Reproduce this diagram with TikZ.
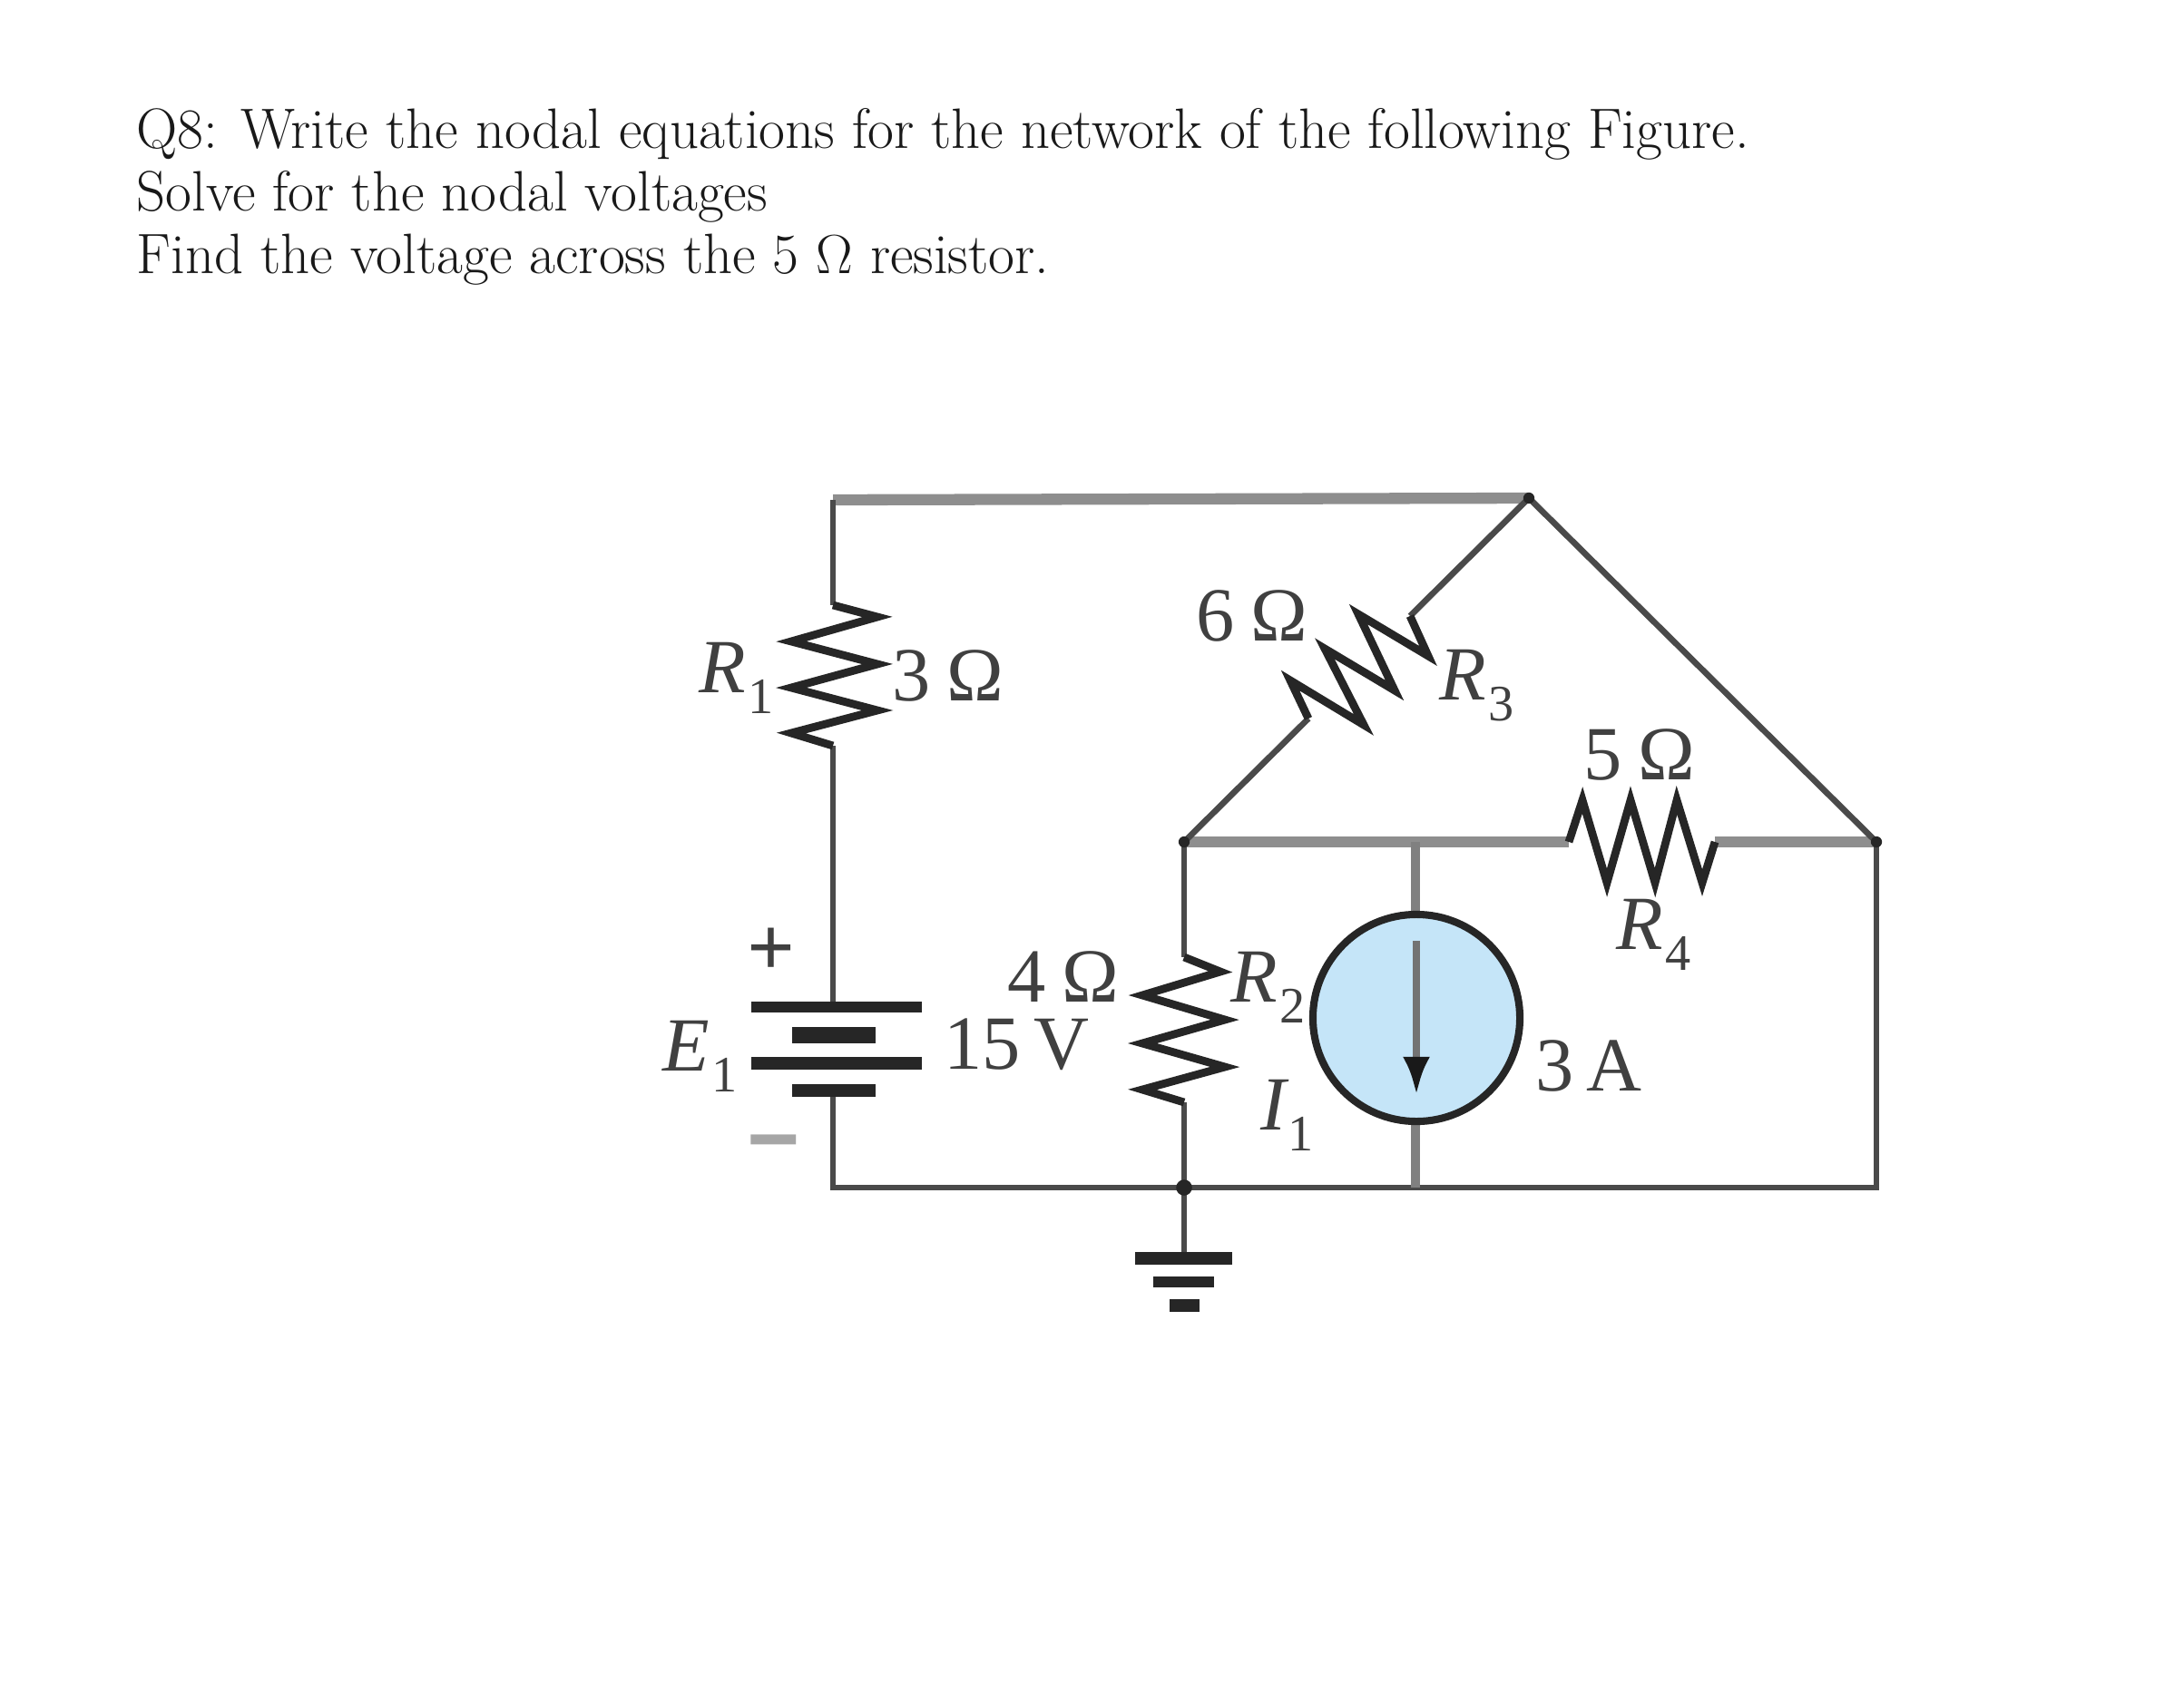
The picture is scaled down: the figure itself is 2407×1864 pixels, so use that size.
\documentclass[tikz,border=0pt]{standalone}
\usepackage{fontspec}
\usetikzlibrary{arrows.meta}
\newfontfamily\lblfont{Liberation Serif}
\definecolor{wirecol}{HTML}{4A4A4A}
\definecolor{fatwire}{HTML}{8E8E8E}
\definecolor{srcfill}{HTML}{C5E5F8}
\newcommand{\sym}[2]{{\itshape #1}\kern0.5pt\raisebox{-0.28em}{\fontsize{16}{16}\selectfont #2}}
\newcommand{\ohm}[1]{#1\,\kern1pt\symbol{"03A9}}
\tikzset{
  wire/.style={draw=wirecol,line width=1.9pt},
  thickwire/.style={draw=fatwire,line width=3.5pt},
  zig/.style={draw=black!85,line width=2.5pt,line join=miter},
  plate/.style={draw=black!85,line width=3.4pt},
  dot/.style={circle,fill=black!85,inner sep=0pt,minimum size=5pt},
  lbl/.style={font=\lblfont\fontsize{24}{24}\selectfont,inner sep=0pt,anchor=base west,text=black!75},
  titl/.style={font=\fontsize{17.85}{18}\selectfont,inner sep=0pt,anchor=base west,text=black!90}
}
\begin{document}
\begin{tikzpicture}[x=0.01cm,y=-0.01cm]
  \useasboundingbox (0,0) rectangle (2407,1864);
  % text
  \node (q1) [titl] at (150,164) {Q8: Write the nodal equations for the network of the following Figure.};
  \node (q2) [titl] at (150,233) {Solve for the nodal voltages};
  \node (q3) [titl] at (150,302) {Find the voltage across the 5 $\Omega$ resistor.};
  % corners
  \coordinate (tl) at (918,551);
  \coordinate (apex) at (1685,549);
  \coordinate (nl) at (1305,928);
  \coordinate (nr) at (2068,928);
  \coordinate (bl) at (918,1309);
  \coordinate (br) at (2068,1309);
  \coordinate (gnd) at (1305,1309);
  \coordinate (r1a) at (918,667);
  \coordinate (r1b) at (918,822);
  \coordinate (e1a) at (918,1110);
  \coordinate (e1b) at (918,1202);
  \coordinate (r2a) at (1305,1055);
  \coordinate (r2b) at (1305,1215);
  \coordinate (r3a) at (1442,792);
  \coordinate (r3b) at (1554,679);
  \coordinate (r4a) at (1729,928);
  \coordinate (r4b) at (1890,928);
  \coordinate (itop) at (1560,928);
  \coordinate (ibot) at (1560,1309);
  \coordinate (g1) at (1305,1387);
  % wires
  \draw[thickwire] (tl) -- (apex);
  \draw[thickwire] (nl) -- (r4a);
  \draw[thickwire] (r4b) -- (nr);
  \draw[wire] (tl) -- (r1a);
  \draw[wire] (r1b) -- (e1a);
  \draw[wire] (e1b) -- (bl) -- (br) -- (nr);
  \draw[wire] (apex) -- (nr);
  \draw[wire] (apex) -- (r3b);
  \draw[wire] (r3a) -- (nl);
  \draw[wire] (nl) -- (r2a);
  \draw[wire] (r2b) -- (gnd) -- (g1);
  \draw[wire,draw=black!50,line width=3pt] (itop) -- (ibot);
  \node (jg) [dot] at (gnd) {};
  \node (ja) [dot,minimum size=3.5pt] at (apex) {};
  \node (jl) [dot,minimum size=3.5pt] at (nl) {};
  \node (jr) [dot,minimum size=3.5pt] at (nr) {};
  % resistors
  \draw[zig] (r1a) -- (967,680) -- (872,707) -- (967,732) -- (872,758) -- (967,783) -- (872,808) -- (r1b);
  \draw[zig] (r2a) -- (1345,1071) -- (1259,1097) -- (1350,1124) -- (1259,1150) -- (1350,1176) -- (1259,1201) -- (r2b);
  \draw[zig] (r3a) -- (1422,750) -- (1503,799) -- (1460,715) -- (1537,761) -- (1497,677) -- (1574,723) -- (r3b);
  \draw[zig] (r4a) -- (1744,882) -- (1771,973) -- (1797,882) -- (1824,973) -- (1848,882) -- (1876,973) -- (r4b);
  % battery
  \draw[plate] (828,1110) -- (1016,1110);
  \draw[plate,line width=5pt] (873,1141) -- (965,1141);
  \draw[plate,line width=3.8pt] (828,1172) -- (1016,1172);
  \draw[plate,line width=4pt] (873,1202) -- (965,1202);
  % ground
  \draw[plate,line width=4pt] (1251,1387) -- (1358,1387);
  \draw[plate,line width=3.5pt] (1271,1413) -- (1338,1413);
  \draw[plate,line width=4pt] (1289,1439) -- (1322,1439);
  % source
  \node (src) [circle,draw=black!85,line width=2.3pt,fill=srcfill,minimum size=2.28cm,inner sep=0pt] at (1561,1122) {};
  \coordinate (atop) at (1561,1037);
  \coordinate (abot) at (1561,1207);
  \draw[draw=black!55,line width=2.5pt,-{Latex[length=12pt,width=8.5pt,black!90]}] (atop) -- (abot);
  % labels
  \node (plus) [lbl] at (823,1075) {\bfseries\scalebox{1.1}{+}};
  \node (minus) [lbl,text=black!35] at (828,1307) {\scalebox{1.15}[2.6]{\textendash}};
  \node (lr1) [lbl] at (770,763) {\sym{R}{1}};
  \node (l3) [lbl] at (983,772) {\ohm{3}};
  \node (le1) [lbl] at (730,1180) {\sym{E}{1}};
  \node (l15) [lbl] at (1040,1178) {15\,V};
  \node (l4) [lbl] at (1110,1104) {\ohm{4}};
  \node (lr2) [lbl] at (1356,1104) {\sym{R}{2}};
  \node (li1) [lbl] at (1389,1245) {\sym{I}{1}};
  \node (l6) [lbl] at (1318,706) {\ohm{6}};
  \node (lr3) [lbl] at (1586,771) {\sym{R}{3}};
  \node (l5) [lbl] at (1745,859) {\ohm{5}};
  \node (lr4) [lbl] at (1781,1046) {\sym{R}{4}};
  \node (l3a) [lbl] at (1692,1202) {3\,A};
\end{tikzpicture}
\end{document}
